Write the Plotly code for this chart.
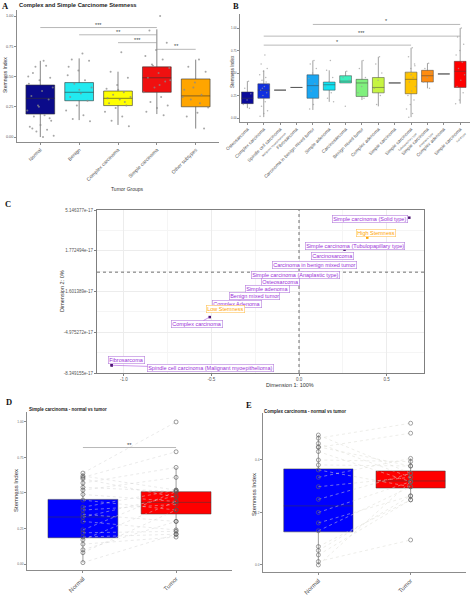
import plotly.graph_objects as go

W, H = 474, 595
FONT = "Liberation Sans"
SERIF = "Liberation Serif"


def fx(p):
    return p / W


def fy(p):
    return 1 - p / H


def jitter(n, w):
    # deterministic (golden-ratio) spread of points across the box width
    return [w * ((((i + 1) * 0.6180339887) % 1.0) * 2 - 1) for i in range(n)]


# ---------------- Panel A data ----------------
a_groups = ["Normal", "Benign", "Complex carcinoma", "Simple carcinoma", "Other subtypes"]
a_colors = ["#0b0b8a", "#22eaf0", "#ffff00", "#f01010", "#ffa500"]
a_q1 = [0.19, 0.30, 0.26, 0.37, 0.25]
a_med = [0.32, 0.37, 0.32, 0.49, 0.34]
a_q3 = [0.43, 0.45, 0.38, 0.58, 0.48]
a_lo = [0.00, 0.14, 0.10, 0.19, 0.07]
a_hi = [0.63, 0.65, 0.54, 0.89, 0.64]
a_pts_normal = [0.63, 0.53, 0.49, 0.47, 0.44, 0.59, 0.58, 0.41, 0.38, 0.34, 0.31, 0.26, 0.22,
                0.18, 0.17, 0.135, 0.10, 0.085, 0.06, 0.045, 0.01, 0.0, 0.07, 0.155, 0.25, 0.50]
a_pts_benign = [0.69, 0.64, 0.63, 0.55, 0.51, 0.47, 0.44, 0.41, 0.36, 0.33, 0.30, 0.26, 0.22,
                0.18, 0.15, 0.13, 0.39, 0.58]
a_pts_complex = [0.70, 0.54, 0.49, 0.43, 0.40, 0.37, 0.35, 0.33, 0.31, 0.28, 0.26, 0.24, 0.21,
                 0.17, 0.135, 0.09, 0.39, 0.32, 0.29]
a_pts_simple = [1.00, 0.88, 0.78, 0.72, 0.67, 0.64, 0.60, 0.57, 0.53, 0.49, 0.46, 0.41, 0.37,
                0.33, 0.29, 0.26, 0.24, 0.21, 0.18, 0.59, 0.47, 0.43]
a_pts_other = [0.64, 0.58, 0.54, 0.45, 0.39, 0.35, 0.31, 0.245, 0.20, 0.17, 0.07, 0.41, 0.33, 0.28]
a_points = [a_pts_normal, a_pts_benign, a_pts_complex, a_pts_simple, a_pts_other]
a_sig_from = [1, 2, 3, 4]
a_sig_to = [4, 4, 4, 5]
a_sig_y = [0.905, 0.845, 0.78, 0.725]
a_sig_lab = ["***", "**", "***", "**"]
a_yticks = [0.0, 0.25, 0.5, 0.75, 1.0]
a_yticktext = ["0.00", "0.25", "0.50", "0.75", "1.00"]

# ---------------- Panel B data ----------------
b_labels = [
    "Osteosarcoma",
    "Complex carcinoma",
    "Spindle cell carcinoma",
    "Fibrosarcoma",
    "Carcinoma in benign mixed tumor",
    "Simple adenoma",
    "Carcinosarcoma",
    "Benign mixed tumor",
    "Complex adenoma",
    "Simple carcinoma",
    "Simple carcinoma",
    "Simple carcinoma",
    "Complex adenoma",
    "Simple carcinoma",
]
b_sublabels = ["", "", "Malignant myoepithelioma", "", "", "", "", "", "", "",
               "Tubulopapillary type", "Anaplastic type", "", "Solid type"]
b_colors = ["#0a0a9a", "#1030e0", "#444444", "#444444", "#1aa6f2", "#10e2f2", "#3ef0be",
            "#80f07e", "#c6f442", "#444444", "#ffc400", "#ff8c10", "#444444", "#ff0000"]
b_q1 = [0.16, 0.22, 0.31, 0.34, 0.22, 0.31, 0.39, 0.24, 0.28, 0.39, 0.27, 0.40, 0.49, 0.34]
b_med = [0.22, 0.31, 0.31, 0.34, 0.36, 0.37, 0.41, 0.39, 0.34, 0.39, 0.43, 0.47, 0.49, 0.52]
b_q3 = [0.29, 0.38, 0.31, 0.34, 0.48, 0.40, 0.47, 0.43, 0.45, 0.39, 0.51, 0.53, 0.49, 0.63]
b_lo = [0.11, 0.01, 0.31, 0.34, 0.09, 0.18, 0.39, 0.20, 0.13, 0.39, 0.01, 0.33, 0.49, 0.16]
b_hi = [0.41, 0.53, 0.31, 0.34, 0.64, 0.53, 0.52, 0.64, 0.68, 0.39, 0.78, 0.61, 0.49, 1.00]
b_points = [
    [0.41, 0.33, 0.27, 0.20, 0.15, 0.11],
    [0.70, 0.60, 0.55, 0.52, 0.48, 0.45, 0.42, 0.38, 0.35, 0.31, 0.28, 0.25, 0.22, 0.18,
     0.13, 0.08, 0.05, 0.02, 0.40, 0.33],
    [], [],
    [0.64, 0.60, 0.55, 0.50, 0.44, 0.38, 0.30, 0.22, 0.15, 0.10],
    [0.64, 0.53, 0.45, 0.40, 0.35, 0.28, 0.22, 0.18],
    [0.52, 0.45, 0.42, 0.13],
    [0.64, 0.55, 0.45, 0.35, 0.28, 0.22],
    [0.68, 0.60, 0.50, 0.42, 0.33, 0.25, 0.15],
    [],
    [0.78, 0.68, 0.60, 0.55, 0.50, 0.45, 0.40, 0.35, 0.30, 0.25, 0.20, 0.15, 0.10, 0.05,
     0.01, 0.58, 0.48],
    [0.61, 0.55, 0.50, 0.45, 0.40, 0.33],
    [],
    [1.00, 0.90, 0.82, 0.75, 0.70, 0.62, 0.55, 0.48, 0.42, 0.35, 0.28, 0.20, 0.16],
]
b_sig_from = [5, 2, 2]
b_sig_to = [14, 14, 11]
b_sig_y = [1.04, 0.91, 0.81]
b_sig_lab = ["*", "***", "*"]

# ---------------- Panel C data ----------------
c_labels = [
    "Simple carcinoma (Solid type)",
    "High Stemness",
    "Simple carcinoma (Tubulopapillary type)",
    "Carcinosarcoma",
    "Carcinoma in benign mixed tumor",
    "Simple carcinoma (Anaplastic type)",
    "Osteosarcoma",
    "Simple adenoma",
    "Benign mixed tumor",
    "Complex Adenoma",
    "Low Stemness",
    "Complex carcinoma",
    "Fibrosarcoma",
    "Spindle cell carcinoma (Malignant myoepithelioma)",
]
c_kind = ["tumor", "stem", "tumor", "tumor", "tumor", "tumor", "tumor", "tumor", "tumor",
          "tumor", "stem", "tumor", "tumor", "tumor"]
c_dim1 = [0.63, 0.39, 0.26, 0.20, 0.08, -0.02, -0.10, -0.17, -0.25, -0.34, -0.42, -0.51,
          -1.07, -1.07]
c_dim2 = [4.51e-17, 2.86e-17, 1.86e-17, 1.42e-17, 0.56e-17, -0.14e-17, -0.72e-17,
          -1.22e-17, -1.80e-17, -2.44e-17, -3.04e-17, -3.72e-17, -7.71e-17, -7.71e-17]
c_yticks = [-8.349155e-17, -4.975272e-17, -1.601389e-17, 1.772494e-17, 5.146377e-17]
c_yticktext = ["-8.349155e-17", "-4.975272e-17", "-1.601389e-17", "1.772494e-17",
               "5.146377e-17"]
c_xticks = [-1.0, -0.5, 0.0, 0.5]
c_xticktext = ["-1.0", "-0.5", "0.0", "0.5"]
# label offsets from their points (pixels, right / down)
c_ax = [-39, 9, 10, -2, 1, 0, -1, -2, -1, -2, 0, -13, 15, 99]
c_ay = [1, -5, -4, 1, 0, 1, 1, 2, 2, 2, 0, 7, -5, 3]

# ---------------- Panel D data ----------------
d_groups = ["Normal", "Tumor"]
d_q1 = [0.185, 0.352]
d_med = [0.331, 0.434]
d_q3 = [0.455, 0.509]
d_lo = [0.01, 0.19]
d_hi = [0.64, 0.68]
d_normal = [0.64, 0.62, 0.61, 0.60, 0.57, 0.54, 0.52, 0.49, 0.45, 0.40, 0.38, 0.35, 0.33,
            0.30, 0.24, 0.22, 0.19, 0.17, 0.14, 0.10, 0.08, 0.01]
d_tumor = [1.00, 0.52, 0.79, 0.47, 0.68, 0.51, 0.61, 0.44, 0.38, 0.52, 0.42, 0.30, 0.48,
           0.24, 0.51, 0.23, 0.21, 0.44, 0.19, 0.30, 0.38, 0.21]
d_sig_y = 0.82
d_sig_lab = "**"
d_yticks = [0.0, 0.25, 0.5, 0.75, 1.0]
d_yticktext = ["0.00", "0.25", "0.50", "0.75", "1.00"]

# ---------------- Panel E data ----------------
e_groups = ["Normal", "Tumor"]
e_q1 = [0.126, 0.293]
e_med = [0.225, 0.32]
e_q3 = [0.366, 0.358]
e_lo = [0.0, 0.248]
e_hi = [0.495, 0.406]
e_normal = [0.495, 0.483, 0.463, 0.448, 0.432, 0.40, 0.381, 0.362, 0.334, 0.298, 0.25, 0.20,
            0.16, 0.13, 0.07, 0.055, 0.038, 0.013, 0.0, 0.45]
e_tumor = [0.349, 0.54, 0.334, 0.502, 0.317, 0.394, 0.377, 0.298, 0.406, 0.334, 0.349, 0.317,
           0.263, 0.298, 0.248, 0.263, 0.248, 0.095, 0.317, 0.377]
e_yticks = [0.0, 0.2, 0.4]
e_yticktext = ["0.0", "0.2", "0.4"]

BOXCOL = ["#0000ff", "#ff0000"]

fig = go.Figure()


def add_box(xa, ya, pos, q1, med, q3, lo, hi, color, width, lc="#333333", lw=0.6):
    fig.add_trace(go.Box(
        x=[pos], q1=[q1], median=[med], q3=[q3], lowerfence=[lo], upperfence=[hi],
        orientation="v", width=width, fillcolor=color, whiskerwidth=0,
        line=dict(color=lc, width=lw), boxpoints=False,
        xaxis=xa, yaxis=ya, showlegend=False, hoverinfo="skip"))


# ---- A
for i in range(len(a_groups)):
    add_box("x", "y", i + 1, a_q1[i], a_med[i], a_q3[i], a_lo[i], a_hi[i], a_colors[i], 0.74)
for i, pts in enumerate(a_points):
    offs = jitter(len(pts), 0.36)
    fig.add_trace(go.Scatter(x=[i + 1 + o for o in offs], y=pts, mode="markers",
                             marker=dict(size=2, color="#8a8a8a", opacity=0.75),
                             xaxis="x", yaxis="y", showlegend=False, hoverinfo="skip"))

# ---- B
for i in range(len(b_labels)):
    add_box("x2", "y2", i + 1, b_q1[i], b_med[i], b_q3[i], b_lo[i], b_hi[i], b_colors[i], 0.72,
            lc="#404040", lw=0.5)
for i, pts in enumerate(b_points):
    if not pts:
        continue
    offs = jitter(len(pts), 0.3)
    fig.add_trace(go.Scatter(x=[i + 1 + o for o in offs], y=pts, mode="markers",
                             marker=dict(size=1.5, color="#9a9a9a", opacity=0.7),
                             xaxis="x2", yaxis="y2", showlegend=False, hoverinfo="skip"))

# ---- C
PURPLE = "#9b30d9"
PURPLE_B = "#b57edc"
ORANGE = "#ffa500"
ORANGE_B = "#ffc45a"
for kind, col in (("tumor", "#4b1470"), ("stem", ORANGE)):
    xs = [c_dim1[i] for i in range(len(c_labels)) if c_kind[i] == kind]
    ys = [c_dim2[i] for i in range(len(c_labels)) if c_kind[i] == kind]
    fig.add_trace(go.Scatter(x=xs, y=ys, mode="markers",
                             marker=dict(size=2.5, color=col, symbol="square"),
                             xaxis="x3", yaxis="y3", showlegend=False, hoverinfo="skip"))

# ---- D
for i in range(2):
    add_box("x4", "y4", i + 1, d_q1[i], d_med[i], d_q3[i], d_lo[i], d_hi[i], BOXCOL[i], 0.75,
            lc="#3a3a3a", lw=0.5)
lx, ly = [], []
for n, t in zip(d_normal, d_tumor):
    lx += [1, 2, None]
    ly += [n, t, None]
fig.add_trace(go.Scatter(x=lx, y=ly, mode="lines", line=dict(color="#d4d4d4", width=0.5, dash="dot"),
                         xaxis="x4", yaxis="y4", showlegend=False, hoverinfo="skip"))
fig.add_trace(go.Scatter(x=[1] * len(d_normal) + [2] * len(d_tumor), y=d_normal + d_tumor,
                         mode="markers", marker=dict(size=4, symbol="circle-open", color="#555555",
                                                     line=dict(width=0.6)),
                         xaxis="x4", yaxis="y4", showlegend=False, hoverinfo="skip"))

# ---- E
for i in range(2):
    add_box("x5", "y5", i + 1, e_q1[i], e_med[i], e_q3[i], e_lo[i], e_hi[i], BOXCOL[i], 0.75,
            lc="#3a3a3a", lw=0.5)
lx, ly = [], []
for n, t in zip(e_normal, e_tumor):
    lx += [1, 2, None]
    ly += [n, t, None]
fig.add_trace(go.Scatter(x=lx, y=ly, mode="lines", line=dict(color="#dadad2", width=0.5, dash="dot"),
                         xaxis="x5", yaxis="y5", showlegend=False, hoverinfo="skip"))
fig.add_trace(go.Scatter(x=[1] * len(e_normal) + [2] * len(e_tumor), y=e_normal + e_tumor,
                         mode="markers", marker=dict(size=4, symbol="circle-open", color="#666666",
                                                     line=dict(width=0.6)),
                         xaxis="x5", yaxis="y5", showlegend=False, hoverinfo="skip"))

shapes = []
annotations = []


def sig(xref, yref, x0, x1, y, lab, fs=5.5):
    shapes.append(dict(type="line", xref=xref, yref=yref, x0=x0, x1=x1, y0=y, y1=y,
                       line=dict(color="#9a9a9a", width=0.7)))
    annotations.append(dict(xref=xref, yref=yref, x=(x0 + x1) / 2, y=y, text=lab, showarrow=False,
                            yanchor="bottom", yshift=-2, font=dict(size=fs, color="#444444", family=FONT)))


for f, t, y, lab in zip(a_sig_from, a_sig_to, a_sig_y, a_sig_lab):
    sig("x", "y", f, t, y, lab)
for f, t, y, lab in zip(b_sig_from, b_sig_to, b_sig_y, b_sig_lab):
    sig("x2", "y2", f, t, y, lab)
sig("x4", "y4", 1, 2, d_sig_y, d_sig_lab, fs=6)

# C reference lines
shapes.append(dict(type="line", xref="x3", yref="y3 domain", x0=0, x1=0, y0=0, y1=1,
                   line=dict(color="#333333", width=0.7, dash="dot")))
shapes.append(dict(type="line", xref="x3 domain", yref="y3", x0=0, x1=1, y0=0, y1=0,
                   line=dict(color="#333333", width=0.7, dash="dot")))

# C labels
for i, lab in enumerate(c_labels):
    stem = c_kind[i] == "stem"
    far = abs(c_ax[i]) > 40 or abs(c_ay[i]) > 6
    annotations.append(dict(
        xref="x3", yref="y3", x=c_dim1[i], y=c_dim2[i], text=lab,
        showarrow=far, arrowhead=0, arrowwidth=0.5, standoff=0,
        arrowcolor=ORANGE if stem else PURPLE,
        ax=c_ax[i] if far else 0, ay=c_ay[i] if far else 0,
        xshift=0 if far else c_ax[i], yshift=0 if far else -c_ay[i],
        font=dict(size=5.5, color=ORANGE if stem else PURPLE, family=FONT),
        bgcolor="white", bordercolor=ORANGE_B if stem else PURPLE_B,
        borderwidth=0.6, borderpad=0.6))


def paper_text(x, y, text, size, color="#222222", family=FONT, angle=0, xanchor="center",
               bold=False):
    annotations.append(dict(xref="paper", yref="paper", x=fx(x), y=fy(y),
                            text=("<b>%s</b>" % text) if bold else text, showarrow=False,
                            textangle=angle, xanchor=xanchor, yanchor="middle",
                            font=dict(size=size, color=color, family=family)))


# panel letters
paper_text(0, 6, "A", 8.5, "#111111", SERIF, xanchor="left", bold=True)
paper_text(231, 6, "B", 8.5, "#111111", SERIF, xanchor="left", bold=True)
paper_text(3, 204, "C", 8.5, "#111111", SERIF, xanchor="left", bold=True)
paper_text(4, 402, "D", 8.5, "#111111", SERIF, xanchor="left", bold=True)
paper_text(244, 405, "E", 8.5, "#111111", SERIF, xanchor="left", bold=True)

# titles
paper_text(17, 5, "Complex and Simple Carcinome Stemness", 5.8, "#222222", xanchor="left", bold=True)
paper_text(27, 409, "Simple carcinoma - normal vs tumor", 4.5, "#222222", xanchor="left", bold=True)
paper_text(262, 411, "Complex carcinoma - normal vs tumor", 4.5, "#222222", xanchor="left", bold=True)

# axis titles
paper_text(5, 75, "Stemness Index", 5, "#333333", angle=-90)
paper_text(128, 189, "Tumor Groups", 5, "#333333")
paper_text(232, 72, "Stemness Index", 4.5, "#333333", angle=-90)
paper_text(62, 291, "Dimension 2: 0%", 5.5, "#333333", angle=-90)
paper_text(290, 385, "Dimension 1: 100%", 5.5, "#333333")
paper_text(16, 490, "Stemness Index", 6, "#333333", angle=-90)
paper_text(254, 495, "Stemness Index", 6, "#333333", angle=-90)

AXC = "#8c8c8c"
TICKF = dict(size=4.5, color="#555555", family=FONT)


def classic(**kw):
    d = dict(showline=True, linecolor=AXC, linewidth=0.8, ticks="outside", ticklen=2,
             tickwidth=0.6, tickcolor=AXC, showgrid=False, zeroline=False, tickfont=TICKF,
             fixedrange=True, automargin=False)
    d.update(kw)
    return d


b_ticktext = []
for lab, sub in zip(b_labels, b_sublabels):
    if sub:
        b_ticktext.append(lab + '<br><span style="font-size:2.8px">' + sub + "</span>")
    else:
        b_ticktext.append(lab)

fig.update_layout(
    width=W, height=H, margin=dict(l=0, r=0, t=0, b=0, pad=0, autoexpand=False),
    paper_bgcolor="white", plot_bgcolor="white", showlegend=False,
    font=dict(family=FONT),
    xaxis=classic(domain=[fx(17), fx(219)], range=[0.4, 5.6], anchor="y",
                  tickmode="array", tickvals=[1, 2, 3, 4, 5], ticktext=a_groups, tickangle=-45,
                  tickfont=dict(size=5, color="#555555", family=FONT)),
    yaxis=classic(domain=[fy(142), fy(10)], range=[-0.041, 1.05], anchor="x",
                  tickmode="array", tickvals=a_yticks, ticktext=a_yticktext,
                  tickfont=dict(size=3.8, color="#555555", family=FONT)),
    xaxis2=classic(domain=[fx(240), fx(470)], range=[0.55, 14.6], anchor="y2",
                   tickmode="array", tickvals=list(range(1, 15)), ticktext=b_ticktext,
                   tickangle=-45, tickfont=dict(size=4.6, color="#555555", family=FONT)),
    yaxis2=classic(domain=[fy(122), fy(14)], range=[-0.044, 1.156], anchor="x2",
                   tickmode="array", tickvals=a_yticks, ticktext=a_yticktext,
                   tickfont=dict(size=2.8, color="#555555", family=FONT)),
    xaxis3=dict(domain=[fx(97), fx(424)], range=[-1.154, 0.714], anchor="y3",
                showline=True, mirror=True, linecolor="#7f7f7f", linewidth=1,
                ticks="outside", ticklen=2, tickwidth=0.6, tickcolor="#7f7f7f",
                tickmode="array", tickvals=c_xticks, ticktext=c_xticktext, tickfont=TICKF,
                showgrid=True, gridcolor="#ececec", gridwidth=0.5, zeroline=False,
                minor=dict(tickvals=[-0.75, -0.25, 0.25], showgrid=True, gridcolor="#f5f5f5",
                           gridwidth=0.4, ticks=""),
                fixedrange=True, automargin=False),
    yaxis3=dict(domain=[fy(373), fy(210)],
                range=[-8.349155e-17, 5.146377e-17], anchor="x3",
                showline=True, mirror=True, linecolor="#7f7f7f", linewidth=1,
                ticks="outside", ticklen=2, tickwidth=0.6, tickcolor="#7f7f7f",
                tickmode="array", tickvals=c_yticks, ticktext=c_yticktext, tickfont=TICKF,
                showgrid=True, gridcolor="#ececec", gridwidth=0.5, zeroline=False,
                minor=dict(tickvals=[-6.662214e-17, -3.288331e-17, 0.085553e-17, 3.459436e-17],
                           showgrid=True, gridcolor="#f5f5f5", gridwidth=0.4, ticks=""),
                fixedrange=True, automargin=False),
    xaxis4=classic(domain=[fx(27), fx(232)], range=[0.4, 2.6], anchor="y4",
                   tickmode="array", tickvals=[1, 2], ticktext=d_groups, tickangle=-45,
                   tickfont=dict(size=6, color="#555555", family=FONT)),
    yaxis4=classic(domain=[fy(570), fy(412)], range=[-0.042, 1.07], anchor="x4",
                   tickmode="array", tickvals=d_yticks, ticktext=d_yticktext,
                   tickfont=dict(size=3.2, color="#666666", family=FONT)),
    xaxis5=classic(domain=[fx(263), fx(466)], range=[0.4, 2.6], anchor="y5",
                   tickmode="array", tickvals=[1, 2], ticktext=e_groups, tickangle=-45,
                   tickfont=dict(size=6, color="#555555", family=FONT)),
    yaxis5=classic(domain=[fy(572), fy(413)], range=[-0.027, 0.579], anchor="x5",
                   tickmode="array", tickvals=e_yticks, ticktext=e_yticktext,
                   tickfont=dict(size=3.2, color="#666666", family=FONT)),
    shapes=shapes, annotations=annotations,
)

fig.write_html("out.html")
